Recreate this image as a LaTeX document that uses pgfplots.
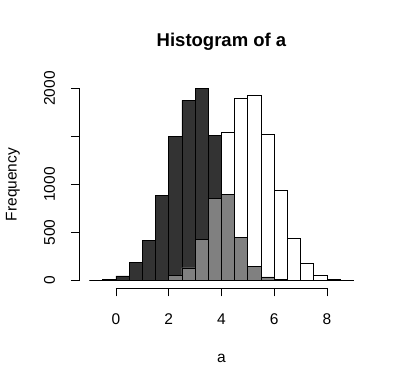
\documentclass[border=0pt]{standalone}
\usepackage{fontspec}
\setmainfont{Liberation Sans}
\usepackage{pgfplots}
\pgfplotsset{compat=1.18}
\definecolor{darkbar}{HTML}{333333}
\definecolor{midbar}{HTML}{808080}
\begin{document}
\fontsize{15.5bp}{18bp}\selectfont
\begin{tikzpicture}
\useasboundingbox (-79bp,-92.7bp) rectangle (324bp,288.3bp);
\begin{axis}[
  scale only axis, width=285bp, height=207.6bp,
  xmin=-1.4, xmax=9.4, ymin=-80, ymax=2080,
  clip=false,
  axis x line*=bottom, axis y line*=left,
  axis line style={draw=none},
  xtick={0,2,4,6,8}, ytick={0,500,1000,1500,2000},
  yticklabels={0,500,1000,,2000},
  tick align=outside, major tick length=8bp,
  tick style={black, line width=0.8bp},
  /pgf/number format/assume math mode=true,
  ticklabel style={font=\fontsize{15.5bp}{18bp}\selectfont},
  xticklabel style={anchor=base, yshift=-28.2bp},
  yticklabel style={xshift=-16bp, rotate=90, anchor=base},
  title={Histogram of a},
  title style={at={(axis description cs:0.5,1.138)}, anchor=base, font=\bfseries\fontsize{18.5bp}{22bp}\selectfont},
  xlabel={a},
  xlabel style={at={(axis description cs:0.5,-0.3598)}, anchor=base, font=\fontsize{15.5bp}{18bp}\selectfont},
  ylabel={Frequency},
  ylabel style={at={(axis description cs:-0.2186,0.5)}, anchor=base, font=\fontsize{15.5bp}{18bp}\selectfont},
]
% dark histogram (a)
\addplot[ybar interval, fill=darkbar, draw=black, line width=0.8bp] coordinates {
(-1,0) (-0.5,8) (0,49) (0.5,193) (1,414) (1.5,883) (2,1499) (2.5,1875) (3,2000) (3.5,1510)
(4,894) (4.5,449) (5,146) (5.5,38) (6,8) (6.5,1) (7,0) (7.5,0) (8,0) (8.5,0) (9,0)};
% white histogram
\addplot[ybar interval, fill=white, draw=black, line width=0.8bp] coordinates {
(-1,0) (-0.5,0) (0,0) (0.5,0) (1,0) (1.5,2) (2,52) (2.5,132) (3,424) (3.5,852)
(4,1541) (4.5,1896) (5,1930) (5.5,1520) (6,939) (6.5,435) (7,174) (7.5,52) (8,10) (8.5,1) (9,0)};
% overlap (grey)
\addplot[ybar interval, fill=midbar, draw=black, line width=0.8bp] coordinates {
(-1,0) (-0.5,0) (0,0) (0.5,0) (1,0) (1.5,2) (2,52) (2.5,132) (3,424) (3.5,852)
(4,894) (4.5,449) (5,146) (5.5,38) (6,8) (6.5,1) (7,0) (7.5,0) (8,0) (8.5,0) (9,0)};
% axis lines spanning the tick range
\draw[black, line width=0.8bp] (axis cs:0,-80) -- (axis cs:8,-80);
\draw[black, line width=0.8bp] (axis cs:-1.4,0) -- (axis cs:-1.4,2000);
\end{axis}
\end{tikzpicture}
\end{document}
